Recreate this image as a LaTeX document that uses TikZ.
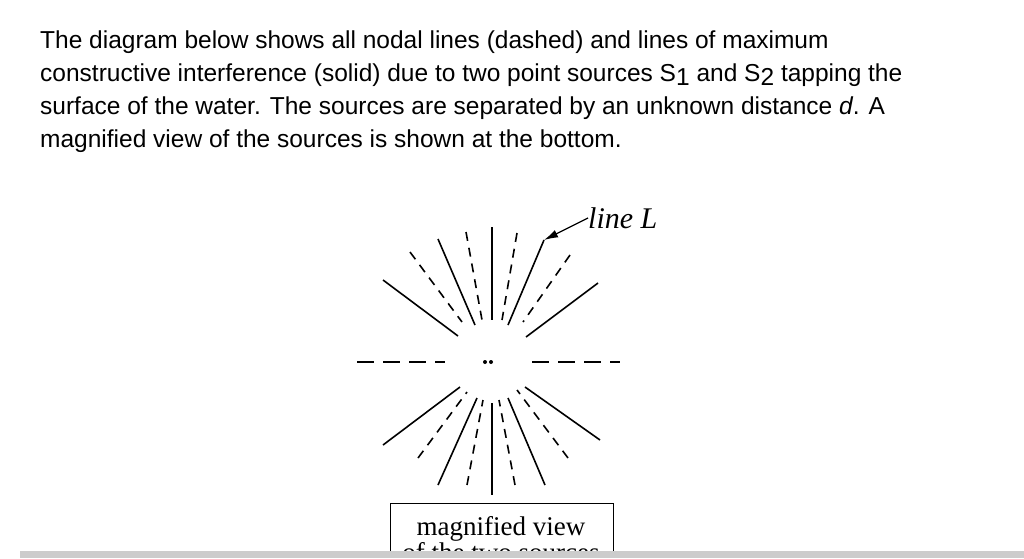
\documentclass[tikz,border=0pt]{standalone}
\usepackage{fontspec}
\usetikzlibrary{arrows.meta}
\setmainfont{Liberation Sans}
\newfontfamily\serif{Liberation Serif}
\begin{document}
\begin{tikzpicture}[x=1pt,y=-1pt,
  sol/.style={line width=1.6pt},
  dsh/.style={line width=1.6pt,dash pattern=on 9pt off 7pt},
  hdsh/.style={line width=1.7pt,dash pattern=on 17pt off 9pt}]
\useasboundingbox (0,0) rectangle (1024,558);
\fill[white] (0,0) rectangle (1024,558);
\node[anchor=west,inner sep=0,align=left,font=\fontsize{24.5}{33}\selectfont] (txt) at (40,92)
{The diagram below shows all nodal lines (dashed) and lines of maximum\\
constructive interference (solid) due to two point sources S\raisebox{-4pt}{1} and S\raisebox{-4pt}{2} tapping the\\
surface of the water. The sources are separated by an unknown distance \textit{d}. A\\
magnified view of the sources is shown at the bottom.};
% sources
\fill (485,362) circle (2);
\fill (491,362) circle (2);
% top
\draw[sol] (492,227) -- (492,320);
\draw[sol] (383,280) -- (458,336);
\draw[sol] (438,239) -- (475,325);
\draw[dsh] (410,252) -- (462,322);
\draw[dsh] (466,232) -- (482,320);
\draw[dsh] (517,233) -- (502,320);
\coordinate (Ltop) at (544,240);
\draw[sol] (Ltop) -- (508,325);
\draw[dsh] (570,255) -- (523,322);
\draw[sol] (598,283) -- (526,337);
% horizontal
\draw[hdsh] (357,362) -- (445,362);
\draw[hdsh] (532,362) -- (620,362);
% bottom
\draw[sol] (383,445) -- (460,387);
\draw[dsh] (418,458) -- (467,392);
\draw[sol] (438,485) -- (477,398);
\draw[dsh] (467,485) -- (483,400);
\draw[sol] (492,403) -- (492,495);
\draw[dsh] (515,485) -- (499,400);
\draw[sol] (545,485) -- (508,398);
\draw[dsh] (568,458) -- (517,390);
\draw[sol] (600,440) -- (525,387);
% label
\node[anchor=west,inner sep=0,font=\serif\itshape\fontsize{30}{30}\selectfont] (lab) at (588,218) {line L};
\draw[line width=1.2pt,-{Latex[length=14pt,width=8pt]}] (lab.west) -- (Ltop);
% box
\begin{scope}
\clip (0,0) rectangle (1024,552);
\node[draw,line width=1.2pt,minimum width=223pt,minimum height=70pt,anchor=north west,inner sep=0] (box) at (390,503) {};
\node[font=\serif\fontsize{27}{26}\selectfont,align=center,anchor=north] (bt) at (501,513) {magnified view\\of the two sources};
\end{scope}
\fill[black!20] (20,551) rectangle (1024,558);
\end{tikzpicture}
\end{document}
